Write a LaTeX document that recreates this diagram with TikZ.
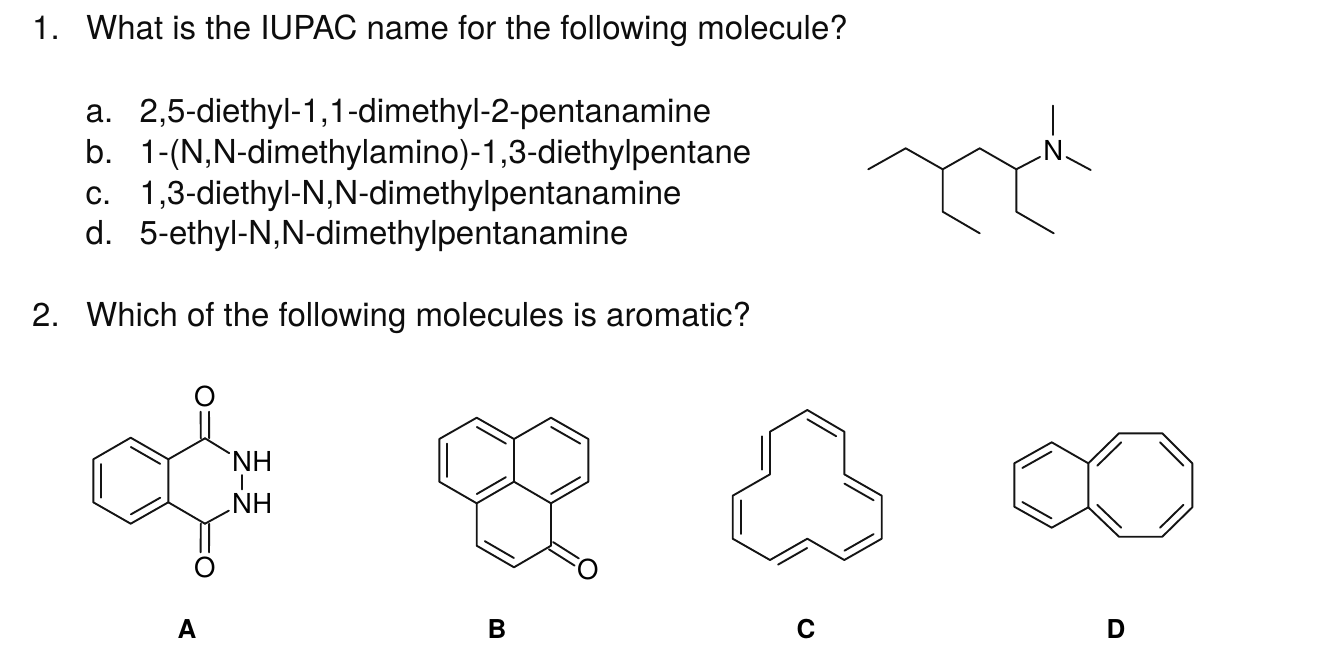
\documentclass[tikz,border=0pt]{standalone}
\usepackage{fontspec}
\setmainfont{TeX Gyre Heros}
\usetikzlibrary{calc}
\tikzset{
  every picture/.style={x=1pt,y=-1pt},
  bond/.style={line width=1.9pt,line cap=round,line join=round,draw=black!92},
  qtext/.style={anchor=base west,inner sep=0pt,font=\fontsize{33}{36}\selectfont,text=black!95},
  anstext/.style={anchor=base west,inner sep=0pt,font=\fontsize{33}{36}\selectfont,text=black!95},
  atom/.style={inner sep=0pt,font=\fontsize{27.5}{30}\selectfont,text=black},
  letter/.style={inner sep=0pt,font=\bfseries\fontsize{26}{28}\selectfont,text=black}
}
\newcommand{\inner}[3]{\draw[bond] ($(#1)!.11!(#2)!8pt!#3:(#2)$) -- ($(#1)!.89!(#2)!8pt!#3:(#2)$);}
\newcommand{\atoms}[1]{\foreach \n/\px/\py in {#1}{\coordinate (\n) at (\px,\py);}}
\begin{document}
\begin{tikzpicture}
\useasboundingbox (0,0) rectangle (1320,666);
\fill[white] (0,0) rectangle (1320,666);
% text
\node[qtext] (q1n) at (32,40) {1.};
\node[qtext] (q1) at (86,40) {What is the IUPAC name for the following molecule?};
\node[anstext] (an) at (85.5,122.7) {a.};
\node[anstext] (at) at (139.5,122.7) {2,5-diethyl-1,1-dimethyl-2-pentanamine};
\node[anstext] (bn) at (85.5,163.7) {b.};
\node[anstext] (bt) at (139.5,163.7) {1-(N,N-dimethylamino)-1,3-diethylpentane};
\node[anstext] (cn) at (85.5,204.7) {c.};
\node[anstext] (ct) at (139.5,204.7) {1,3-diethyl-N,N-dimethylpentanamine};
\node[anstext] (dn) at (85.5,244.7) {d.};
\node[anstext] (dt) at (139.5,244.7) {5-ethyl-N,N-dimethylpentanamine};
\node[qtext] (q2n) at (32,326) {2.};
\node[qtext] (q2) at (86,326) {Which of the following molecules is aromatic?};
\node[letter] (la) at (187,629) {A};
\node[letter] (lb) at (497,629) {B};
\node[letter] (lc) at (806,629) {C};
\node[letter] (ld) at (1116,629) {D};
% molecule 1
\atoms{p1/868.3/169.3,p2/905.7/148.3,p3/942.7/169.3,p4/979.7/148.3,p5/1016.3/169.3,
  p6/942.7/211.7,p7/979.7/233.3,p8/1016.3/211.7,p9/1053.7/233.3,pa/1053.3/105.7,pb/1090.7/170}
\node[atom] (pN) at (1053.3,150) {N};
\draw[bond] (p1)--(p2)--(p3)--(p4)--(p5)--(p8)--(p9);
\draw[bond] (p3)--(p6)--(p7);
\draw[bond,shorten >=15pt] (p5)--(pN.center);
\draw[bond,shorten >=15pt] (pa)--(pN.center);
\draw[bond,shorten >=15pt] (pb)--(pN.center);
% molecule A
\atoms{a1/130.7/437.7,a2/168.3/459.3,a3/168.3/502.3,a4/130.7/523.7,a5/93.3/502.3,a6/93.3/459.3,
  a7/205/438.3,a8/205/523.7}
\node[atom] (aO1) at (204.7,396.7) {O};
\node[atom] (aO2) at (204.7,567.3) {O};
\node[atom] (aN1) at (242,461) {N};
\node[atom,anchor=west] (aH1) at (aN1.east) {H};
\node[atom] (aN2) at (242,503.5) {N};
\node[atom,anchor=west] (aH2) at (aN2.east) {H};
\draw[bond] (a1)--(a2)--(a3)--(a4)--(a5)--(a6)--cycle;
\draw[bond] (a2)--(a7); \draw[bond] (a3)--(a8);
\draw[bond,shorten >=15pt] (a7)--(aN1.center);
\draw[bond,shorten >=15pt] (a8)--(aN2.center);
\draw[bond,shorten >=14pt,shorten <=14pt] (aN1.center)--(aN2.center);
\draw[bond,transform canvas={xshift=-4.2pt},shorten >=15pt] (a7)--(aO1.center);
\draw[bond,transform canvas={xshift=4.2pt},shorten >=15pt] (a7)--(aO1.center);
\draw[bond,transform canvas={xshift=-4.2pt},shorten >=15pt] (a8)--(aO2.center);
\draw[bond,transform canvas={xshift=4.2pt},shorten >=15pt] (a8)--(aO2.center);
\inner{a1}{a2}{-90}
\inner{a3}{a4}{-90}
\inner{a5}{a6}{-90}
% molecule B
\atoms{b1/476.7/417.7,b2/514/439,b3/551/417.7,b4/588.3/439,b5/588.3/481.7,b6/551/503.3,
  b7/514/481.7,b8/476.7/503.3,b9/439.3/481.7,b10/439.3/439,b11/476.7/545.7,b12/514/567.3,b13/551/545.7}
\node[atom] (bO) at (587.7,569) {O};
\draw[bond] (b1)--(b2)--(b3)--(b4)--(b5)--(b6)--(b7)--(b8)--(b9)--(b10)--cycle;
\draw[bond] (b2)--(b7);
\draw[bond] (b6)--(b13)--(b12)--(b11)--(b8);
\draw[bond,transform canvas={xshift=2.1pt,yshift=3.6pt},shorten >=13pt] (b13)--(bO.center);
\draw[bond,transform canvas={xshift=-2.1pt,yshift=-3.6pt},shorten >=13pt] (b13)--(bO.center);
\inner{b1}{b2}{-90}
\inner{b3}{b4}{-90}
\inner{b5}{b6}{-90}
\inner{b7}{b8}{-90}
\inner{b9}{b10}{-90}
\inner{b11}{b12}{90}
% molecule C
\atoms{c1/807.3/410,c2/844.3/431.7,c3/844.3/474.3,c4/881.7/495.7,c5/881.7/538.7,c6/844.3/560,
  c7/807.3/538.7,c8/770/560,c9/732.7/538.7,c10/732.7/495.7,c11/770/474.3,c12/770/431.7}
\draw[bond] (c1)--(c2)--(c3)--(c4)--(c5)--(c6)--(c7)--(c8)--(c9)--(c10)--(c11)--(c12)--cycle;
\inner{c1}{c2}{-90}
\inner{c3}{c4}{-90}
\inner{c5}{c6}{-90}
\inner{c7}{c8}{90}
\inner{c9}{c10}{-90}
\inner{c11}{c12}{90}
% molecule D
\atoms{d1/1051.7/442.3,d2/1088.3/463.3,d3/1088.3/507.3,d4/1051.7/527.7,d5/1014.3/506.7,d6/1014.3/463.3,
  d7/1119/433.3,d8/1162.3/433.3,d9/1192.3/463.3,d10/1192.3/507.3,d11/1162.3/536.7,d12/1119/536.7}
\draw[bond] (d1)--(d2)--(d3)--(d4)--(d5)--(d6)--cycle;
\draw[bond] (d2)--(d7)--(d8)--(d9)--(d10)--(d11)--(d12)--(d3);
\inner{d6}{d1}{-90}
\inner{d4}{d5}{-90}
\inner{d2}{d7}{-90}
\inner{d8}{d9}{-90}
\inner{d10}{d11}{-90}
\inner{d12}{d3}{-90}
\end{tikzpicture}
\end{document}
